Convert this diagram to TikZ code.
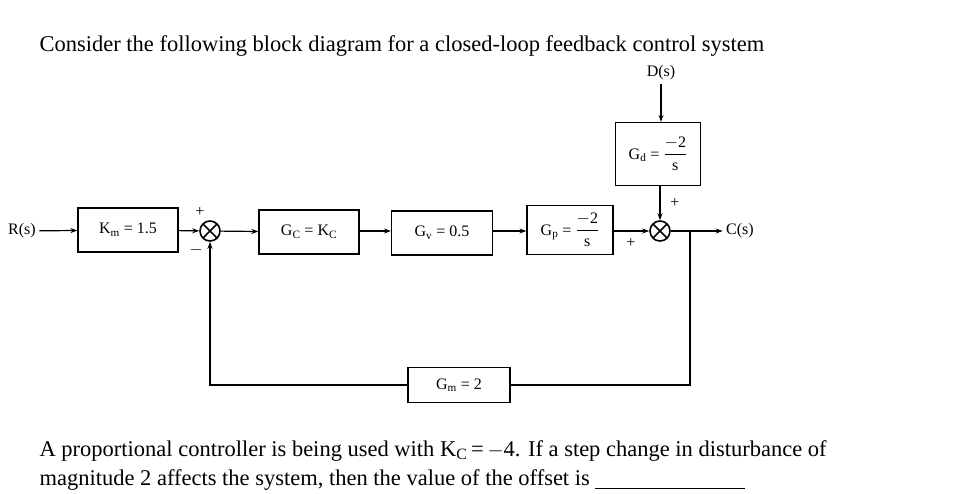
\documentclass[tikz,border=0pt]{standalone}
\usepackage{amsmath}
\usepackage{fontspec}
\setmainfont{Liberation Serif}
\usetikzlibrary{arrows.meta}
\begin{document}
\begin{tikzpicture}[x=1pt,y=-1pt,
  blk/.style={draw,line width=1.2pt,minimum height=44pt,inner sep=1pt,font=\fontsize{16}{18}\selectfont},
  sum/.style={draw,circle,line width=1.6pt,minimum size=20pt,inner sep=0pt,path picture={\draw[line width=1.6pt] (path picture bounding box.north west)--(path picture bounding box.south east) (path picture bounding box.north east)--(path picture bounding box.south west);}},
  ar/.style={-{Stealth[length=7pt,width=5pt]},line width=1.2pt},
  lab/.style={font=\fontsize{16}{18}\selectfont},
  txt/.style={font=\fontsize{22.5}{26}\selectfont,anchor=west}]
\useasboundingbox (0,0) rectangle (972,493);
\node[txt] (t1) at (36,46) {Consider the following block diagram for a closed-loop feedback control system};
\node[txt] (t2) at (36,451) {A proportional controller is being used with K\textsubscript{C}\,=\,$-$4. If a step change in disturbance of};
\node[txt] (t3) at (36,480) {magnitude 2 affects the system, then the value of the offset is \underline{\hspace{150pt}}};
\node[lab] (R) at (22,231) {R(s)};
\node[blk,minimum width=100pt] (km) at (128,230) {K\textsubscript{m} = 1.5};
\node[sum] (s1) at (210,231) {};
\node[blk,minimum width=100pt] (gc) at (309,232) {G\textsubscript{C} = K\textsubscript{C}};
\node[blk,minimum width=101pt] (gv) at (442,233) {G\textsubscript{v} = 0.5};
\node[blk,minimum width=86pt,minimum height=49pt] (gp) at (570,230) {G\textsubscript{p} = $\dfrac{\text{$-$2}}{\text{s}}$};
\node[sum] (s2) at (660,231) {};
\node[blk,minimum width=85pt,minimum height=63pt] (gd) at (658,154) {G\textsubscript{d} = $\dfrac{\text{$-$2}}{\text{s}}$};
\node[lab] (D) at (661,73) {D(s)};
\node[lab] (C) at (740,231) {C(s)};
\node[blk,minimum width=102pt,minimum height=35pt] (gm) at (459,385) {G\textsubscript{m} = 2};
\node[lab] (p1) at (200,212) {+};
\node[lab] (m1) at (196,250) {$-$};
\node[lab] (p2) at (675,203) {+};
\node[lab] (p3) at (631,243) {+};
\coordinate (br) at (690,231);
\coordinate (c1) at (690,385);
\coordinate (c2) at (210,385);
\draw[ar] (R) -- (km);
\draw[ar] (km) -- (s1);
\draw[ar] (s1) -- (gc);
\draw[ar] (gc.east|-s1) -- (gv.west|-s1);
\draw[ar] (gv.east|-s1) -- (gp.west|-s1);
\draw[ar] (gp.east|-s1) -- (s2);
\draw[ar] (D) -- (gd.north-|D);
\draw[ar] (gd.south-|s2) -- (s2);
\draw[ar] (s2) -- (C);
\draw[line width=1.2pt] (br) -- (c1) -- (gm.east);
\draw[ar] (gm.west) -- (c2) -- (s1);
\end{tikzpicture}
\end{document}
